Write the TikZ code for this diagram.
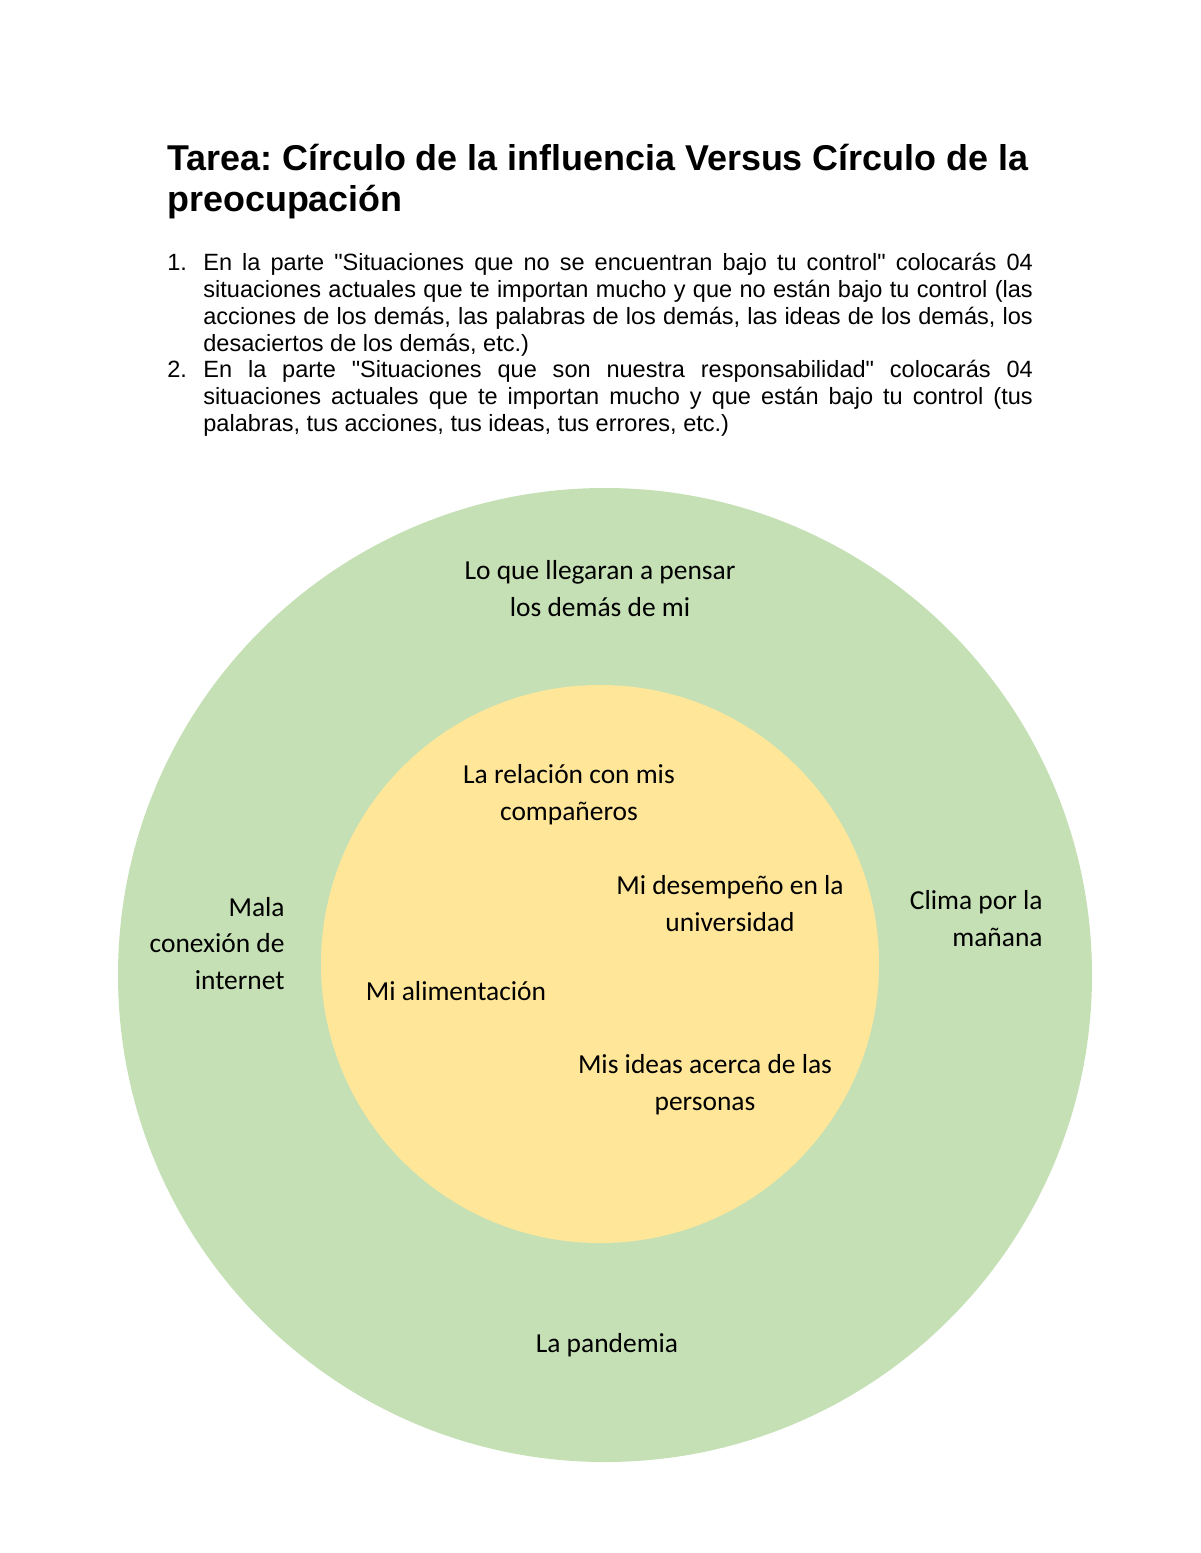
\documentclass[tikz,border=0pt]{standalone}
\usepackage{fontspec}
\usepackage{xcolor}
\setmainfont{Liberation Sans}[Ligatures=TeXOff]
\newfontfamily\calibrifont{Carlito}
\usetikzlibrary{positioning}
\definecolor{concerngreen}{HTML}{C5E0B4}
\definecolor{influenceyellow}{HTML}{FFE699}
\frenchspacing

\begin{document}
\begin{tikzpicture}[x=0.51pt, y=-0.51pt,
    title/.style={anchor=base west, inner sep=0pt, align=left,
      font=\bfseries\fontsize{18.3pt}{21.4pt}\selectfont},
    listnum/.style={anchor=base west, inner sep=0pt,
      font=\fontsize{12pt}{13.8pt}\selectfont},
    listtext/.style={anchor=base west, inner sep=0pt, text width=423pt,
      align=justify, font=\fontsize{12pt}{13.8pt}\selectfont},
    ringlabel/.style={anchor=base, inner sep=0pt, align=center,
      font=\calibrifont\fontsize{14pt}{18.4pt}\selectfont}]
  \useasboundingbox (0,0) rectangle (1200,1553);
  % Heading
  \node[title] (heading) at (167,212)
    {Tarea: Círculo de la influencia Versus Círculo de la\\preocupación};
  % Instructions
  \node[listnum] (num1) at (167,270) {1.};
  \node[listtext] (item1) at (203,270)
    {En la parte "Situaciones que no se encuentran bajo tu control" colocarás 04\linebreak
     situaciones actuales que te importan mucho y que no están bajo tu control (las\linebreak
     acciones de los demás, las palabras de los demás, las ideas de los demás, los\linebreak
     desaciertos de los demás, etc.)};
  \node[listnum] (num2) at (167,377) {2.};
  \node[listtext] (item2) at (203,377)
    {En la parte "Situaciones que son nuestra responsabilidad" colocarás 04\linebreak
     situaciones actuales que te importan mucho y que están bajo tu control (tus\linebreak
     palabras, tus acciones, tus ideas, tus errores, etc.)};
  % Circles
  \fill[concerngreen] (605,975) circle (487);
  \fill[influenceyellow] (600,964) circle (279);
  % Outer ring
  \node[ringlabel] (opinion) at (600,616) {Lo que llegaran a pensar\\los demás de mi};
  \node[ringlabel, anchor=base east, align=right] (internet) at (285,989)
    {Mala\\conexión de\\internet};
  \node[ringlabel, anchor=base east, align=right] (weather) at (1043,946)
    {Clima por la\\mañana};
  \node[ringlabel] (pandemic) at (607,1352) {La pandemia};
  % Inner circle
  \node[ringlabel] (classmates) at (569,820) {La relación con mis\\compañeros};
  \node[ringlabel] (performance) at (730,931) {Mi desempeño en la\\universidad};
  \node[ringlabel] (food) at (456,1000) {Mi alimentación};
  \node[ringlabel] (ideas) at (705,1110) {Mis ideas acerca de las\\personas};
\end{tikzpicture}
\end{document}
